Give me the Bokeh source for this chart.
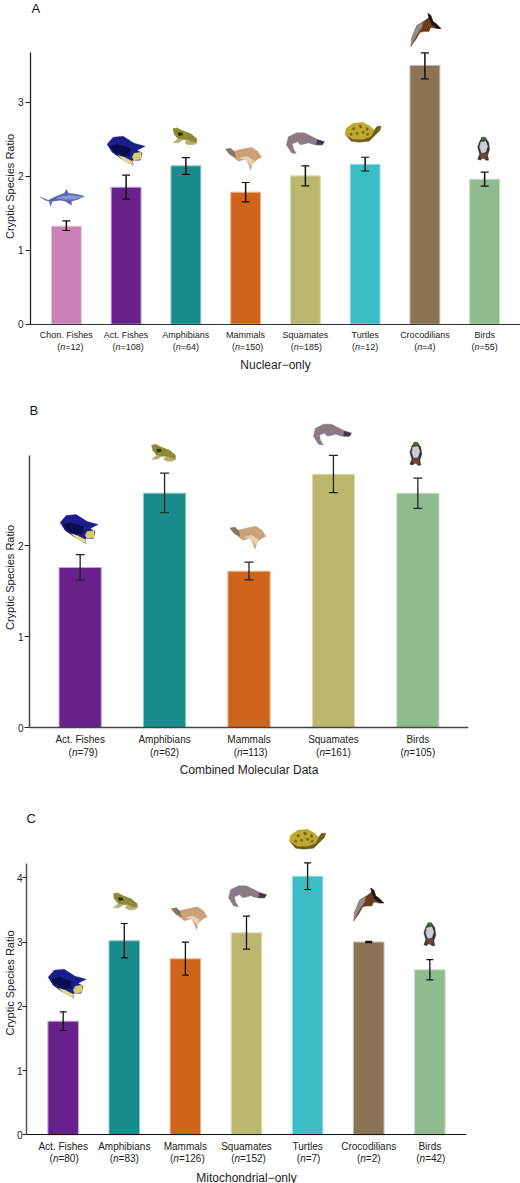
from bokeh.core.properties import value
from bokeh.embed import file_html
from bokeh.layouts import column
from bokeh.models import (CategoricalAxis, ColumnDataSource, FactorRange, FixedTicker,
                          Label, LinearAxis, Range1d, TeeHead, Whisker)
from bokeh.plotting import figure
from bokeh.resources import INLINE

# ---------------- data ----------------
cats_a = ["Chon. Fishes", "Act. Fishes", "Amphibians", "Mammals", "Squamates", "Turtles", "Crocodilians", "Birds"]
vals_a = [1.324, 1.851, 2.14, 1.784, 2.005, 2.162, 3.496, 1.96]
up_a = [1.397, 2.014, 2.25, 1.915, 2.14, 2.256, 3.666, 2.055]
lo_a = [1.266, 1.69, 2.025, 1.654, 1.87, 2.07, 3.316, 1.865]
n_a = [12, 108, 64, 150, 185, 12, 4, 55]

cats_b = ["Act. Fishes", "Amphibians", "Mammals", "Squamates", "Birds"]
vals_b = [1.758, 2.575, 1.718, 2.784, 2.575]
up_b = [1.90, 2.795, 1.817, 2.99, 2.74]
lo_b = [1.62, 2.36, 1.623, 2.58, 2.407]
n_b = [79, 62, 113, 161, 105]

cats_c = ["Act. Fishes", "Amphibians", "Mammals", "Squamates", "Turtles", "Crocodilians", "Birds"]
vals_c = [1.768, 3.019, 2.739, 3.144, 4.025, 3.0, 2.568]
up_c = [1.914, 3.289, 2.998, 3.403, 4.233, 3.01, 2.728]
lo_c = [1.623, 2.755, 2.484, 2.89, 3.818, 2.99, 2.41]
n_c = [80, 83, 126, 152, 7, 2, 42]

ticks_a = [0, 1, 2, 3]
ticks_b = [0, 1, 2]
ticks_c = [0, 1, 2, 3, 4]

# ---------------- styles ----------------
COLORS = {"Chon. Fishes": "#C882B5", "Act. Fishes": "#68218A", "Amphibians": "#188C8A", "Mammals": "#CF641C",
          "Squamates": "#BAB86C", "Turtles": "#3CBCC4", "Crocodilians": "#8B7355", "Birds": "#90BB8E"}
EDGES = {"Chon. Fishes": "#E4C4DC", "Act. Fishes": "#C4A4D2", "Amphibians": "#8CC8C6", "Mammals": "#EDB88E",
         "Squamates": "#DEDCB6", "Turtles": "#A0E0E4", "Crocodilians": "#C8BAA8", "Birds": "#C8DEC8"}
FONT = "Liberation Sans"

# decorative animal silhouettes: layers of (colour, [(dx, dy) in px from the icon centre])
ICONS = {
    "Chon. Fishes": [
        ("#5468B4", [(22, -2), (14, -4), (6, -5), (4, -9), (2, -5), (-6, -2), (-14, 2), (-22, -1), (-17, 2), (-13, 3),
                     (-12, 8), (-10, 3), (-2, 2), (3, 3), (9, 7), (9, 3), (16, 1)]),
        ("#8F97CF", [(20, -1), (10, -3), (0, -2), (-6, 0), (2, 1), (12, 1)]),
    ],
    "Act. Fishes": [
        ("#1C1F8A", [(-19, -7), (-13, -14), (-3, -15), (8, -8), (19, -5), (11, -1), (16, 2), (14, 9), (6, 9), (7, 14),
                     (-4, 8), (-14, 1)]),
        ("#0B0E4E", [(-16, -5), (-8, -7), (4, -3), (4, 4), (-6, 5), (-13, 0)]),
        ("#D8CE6C", [(8, 2), (15, 1), (15, 8), (8, 9), (6, 6)]),
        ("#E4DA8A", [(-8, 4), (-2, 6), (6, 10), (7, 14), (-3, 9)]),
    ],
    "Amphibians": [
        ("#8C8A35", [(-12, -8), (-8, -9), (-2, -6), (6, -3), (12, 2), (12, 6), (7, 6), (2, 3), (-3, 3), (-7, 2),
                     (-11, -3)]),
        ("#B9AE72", [(-7, 2), (-2, 3), (-6, 6), (-12, 6)]),
        ("#B9AE72", [(2, 3), (7, 5), (12, 6), (9, 8), (3, 8), (0, 6)]),
        ("#2C2A14", [(-7, -4), (-3, -4), (-2, -2), (-6, -1)]),
    ],
    "Mammals": [
        ("#C9A27A", [(-18, -9), (-13, -10), (-10, -7), (-2, -9), (8, -11), (14, -7), (18, -1), (14, 1), (9, 5), (7, 12),
                     (5, 6), (2, 1), (-5, 3), (-9, 0), (-14, -4)]),
        ("#85766C", [(-18, -9), (-13, -10), (-9, -6), (-8, -1), (-14, -4)]),
        ("#E7D2B8", [(-4, 0), (3, -2), (10, 2), (8, 8), (5, 4), (1, 1)]),
    ],
    "Squamates": [
        ("#8B7B85", [(-14, 10), (-19, 2), (-17, -6), (-9, -10), (-1, -10), (7, -6), (13, -3), (19, -1), (17, 2), (9, 2),
                     (3, 0), (0, 1), (-5, 2), (-8, -1), (-13, 1), (-12, 6), (-9, 11)]),
        ("#45384A", [(12, -3), (19, -1), (17, 2), (11, 2)]),
    ],
    "Turtles": [
        ("#6B5E1C", [(-18, 1), (-12, 8), (-4, 9), (6, 8), (11, 3), (17, -3), (18, -7), (14, -7), (11, -3), (0, 3)]),
        ("#BFA92E", [(-18, 1), (-17, -5), (-10, -10), (0, -11), (7, -7), (11, -3), (8, 3), (0, 6), (-10, 6)]),
        ("#6E6120", [(-11, -5), (-9, -6), (-8, -4), (-10, -3)]),
        ("#6E6120", [(-4, -8), (-2, -8), (-1, -6), (-3, -5)]),
        ("#6E6120", [(3, -6), (5, -5), (5, -3), (3, -3)]),
        ("#6E6120", [(-7, -1), (-5, -1), (-5, 1), (-7, 1)]),
        ("#6E6120", [(-1, -2), (1, -2), (1, 0), (-1, 0)]),
        ("#6E6120", [(-13, 0), (-11, 0), (-11, 2), (-13, 2)]),
        ("#6E6120", [(4, 0), (6, 0), (5, 2), (3, 2)]),
    ],
    "Crocodilians": [
        ("#6B3D1E", [(-15, 17), (-14, 8), (-9, -4), (-1, -9), (3, -12), (2, -16), (5, -14), (7, -8), (10, -6), (15, -1),
                     (11, -1), (5, -2), (3, 2), (-2, 2), (-6, 3), (-10, 10)]),
        ("#918C84", [(-15, 17), (-14, 8), (-9, -4), (-3, -7), (-4, -2), (-9, 5)]),
        ("#1E1410", [(3, -12), (2, -16), (5, -14), (7, -8), (10, -6), (15, -1), (11, -1), (6, -5)]),
    ],
    "Birds": [
        ("#3A3036", [(-1, -12), (2, -11), (5, -7), (6, 0), (4, 6), (5, 11), (2, 11), (-1, 7), (-3, 11), (-6, 10),
                     (-4, 5), (-6, -2), (-4, -8)]),
        ("#CBCED8", [(-3, -7), (2, -8), (4, -3), (2, 3), (-2, 4), (-4, -2)]),
        ("#3C6B3A", [(-2, -12), (2, -12), (3, -9), (-3, -9)]),
        ("#6B4636", [(-3, 4), (3, 4), (3, 10), (-3, 9)]),
    ],
}


def n_width(text, size):
    em = {"(": .333, ")": .333, "=": .584, "n": .556}
    return sum(em.get(c, .556) for c in text) * size


def panel(cats, vals, ups, los, ns, ticks, letter, xlabel, *, height, zero_px, unit, axis_top, left, right, bar_frac,
          label_size, n_size, row1, row2, x_title_standoff, letter_x, letter_y, rises, dxs, n_dx, tick_len, tick_std,
          title_std, ycolor, ywidth, xcolor, xwidth, ewidth, cap, ecolor):
    step = (right - left) / (len(cats) + 0.2)
    p = figure(width=520, height=height, output_backend="svg", toolbar_location=None,
               x_range=FactorRange(factors=cats, range_padding=0.1, range_padding_units="absolute"),
               y_range=Range1d(-(height - zero_px) / unit, zero_px / unit),
               x_axis_location=None, y_axis_location=None,
               min_border_left=left, min_border_right=520 - right, min_border_top=0, min_border_bottom=0)
    p.frame_align = False
    p.xgrid.visible = False
    p.ygrid.visible = False
    p.outline_line_color = None

    edges = [EDGES[c] for c in cats]
    fills = [COLORS[c] for c in cats]
    src = ColumnDataSource(dict(x=cats, top=vals, up=ups, lo=los, fill=fills, edge=edges))
    p.vbar(x="x", top="top", bottom=0, width=bar_frac, source=src, fill_color="fill", line_color="edge", line_width=1)
    p.add_layout(Whisker(base="x", upper="up", lower="lo", source=src, line_color=ecolor, line_width=ewidth,
                         level="annotation",
                         upper_head=TeeHead(size=cap, line_color=ecolor, line_width=1.2),
                         lower_head=TeeHead(size=cap, line_color=ecolor, line_width=1.2)))

    # animals above the bars (factor + offset coordinates)
    for i, c in enumerate(cats):
        for colour, pts in ICONS[c]:
            xs = [(c, (dxs[i] + dx) / step) for dx, dy in pts]
            ys = [vals[i] + (rises[i] - dy) / unit for dx, dy in pts]
            p.patch(xs, ys, fill_color=colour, line_color=colour, line_width=0.4)

    # "(n=..)" second label row, with an italic n
    rows = {"a": ([], [], []), "b": ([], [], []), "c": ([], [], [])}
    for i, c in enumerate(cats):
        tail = f"={ns[i]})"
        w1, w2, w3 = n_width("(", n_size), n_width("n", n_size), n_width(tail, n_size)
        start = n_dx[i] - (w1 + w2 + w3) / 2
        for key, txt, off in (("a", "(", start), ("b", "n", start + w1), ("c", tail, start + w1 + w2)):
            rows[key][0].append(c)
            rows[key][1].append(txt)
            rows[key][2].append(off)
    for key, style in (("a", "normal"), ("b", "italic"), ("c", "normal")):
        src_t = ColumnDataSource(dict(x=rows[key][0], y=[0] * len(cats), t=rows[key][1], off=rows[key][2]))
        p.text(x="x", y="y", text="t", x_offset="off", y_offset=row2, source=src_t,
               text_font=value(FONT), text_font_size=value(f"{n_size}px"), text_font_style=style,
               text_color="#222222", text_align="left", text_baseline="middle")

    xaxis = CategoricalAxis(fixed_location=0, axis_label=xlabel, axis_label_text_font=FONT,
                            axis_label_text_font_size="12px", axis_label_text_font_style="normal",
                            axis_label_text_color="#222222", axis_label_standoff=x_title_standoff,
                            major_label_text_font=FONT, major_label_text_font_size=f"{label_size}px",
                            major_label_text_color="#222222", major_label_standoff=row1,
                            major_label_orientation="horizontal",
                            major_tick_line_color=None, major_tick_out=0, major_tick_in=0, minor_tick_line_color=None,
                            axis_line_color=xcolor, axis_line_width=xwidth)
    p.add_layout(xaxis, "below")

    yaxis = LinearAxis(ticker=FixedTicker(ticks=ticks), bounds=(0, axis_top), axis_label="Cryptic Species Ratio",
                       axis_label_text_font=FONT, axis_label_text_font_size="11px", axis_label_text_font_style="normal",
                       axis_label_text_color="#222222", axis_label_standoff=title_std,
                       major_label_text_font=FONT, major_label_text_font_size="10px",
                       major_label_text_color="#222222", major_label_standoff=tick_std,
                       major_tick_out=tick_len, major_tick_in=0, major_tick_line_color="#222222",
                       minor_tick_line_color=None, axis_line_color=ycolor, axis_line_width=ywidth)
    p.add_layout(yaxis, "left")

    p.add_layout(Label(x=letter_x, x_units="screen", y=(zero_px - letter_y) / unit, y_units="data", text=letter,
                       text_font=FONT, text_font_size="13px", text_color="#111111", text_baseline="top"))
    return p


pa = panel(cats_a, vals_a, up_a, lo_a, n_a, ticks_a, "A", "Nuclear\u2212only",
           height=372, zero_px=323.7, unit=74, axis_top=3.667, left=30, right=520, bar_frac=0.5, label_size=9, n_size=9,
           row1=6, row2=22.5, x_title_standoff=14, letter_x=1, letter_y=0,
           rises=[28, 36, 29, 34, 33, 31, 36, 30], dxs=[-4, 0, -1, -2, 0, -2, 1, -1], n_dx=[4, 2, 0, 2, 1, 0, 0, 0],
           tick_len=5, tick_std=2, title_std=-1, ycolor="#222222", ywidth=1.3, xcolor="#333333", xwidth=1.2, ewidth=1.5,
           cap=8, ecolor="#111111")
pb = panel(cats_b, vals_b, up_b, lo_b, n_b, ticks_b, "B", "Combined Molecular Data",
           height=410, zero_px=355, unit=91, axis_top=2.99, left=29, right=468, bar_frac=0.5, label_size=10, n_size=10,
           row1=6, row2=24.5, x_title_standoff=15, letter_x=0, letter_y=30,
           rises=[38, 40, 34, 40, 39], dxs=[-1, -1, -1, -1, -2], n_dx=[3, 0, 2, 0, 0],
           tick_len=5, tick_std=1, title_std=-1, ycolor="#444444", ywidth=1.5, xcolor="#444444", xwidth=1.5, ewidth=1.3,
           cap=9, ecolor="#222222")
pc = panel(cats_c, vals_c, up_c, lo_c, n_c, ticks_c, "C", "Mitochondrial\u2212only",
           height=401, zero_px=352.3, unit=64.25, axis_top=4.23, left=26, right=466, bar_frac=0.5, label_size=10,
           n_size=10, row1=6, row2=23.5, x_title_standoff=16, letter_x=0, letter_y=28,
           rises=[37, 39, 41, 37, 36, 38, 35], dxs=[4, 1, 4, 1, 0, 0, 0], n_dx=[1, 0, 2, 2, 1, 0, 1],
           tick_len=4, tick_std=0, title_std=-2, ycolor="#555555", ywidth=1.5, xcolor="#111111", xwidth=1, ewidth=1.3,
           cap=7, ecolor="#111111")

page = column(pa, pb, pc, spacing=0)
open("out.html", "w").write(file_html(page, INLINE))
